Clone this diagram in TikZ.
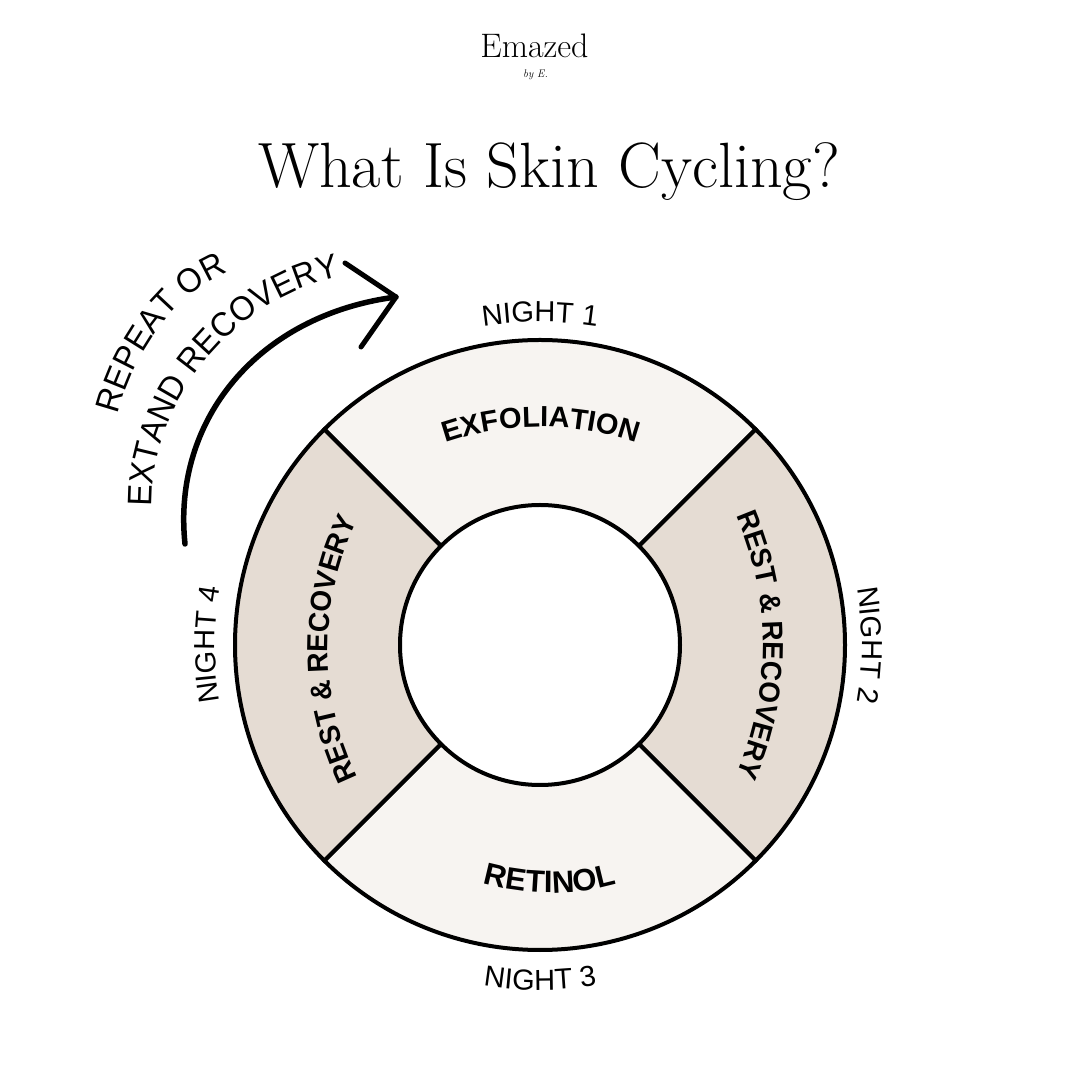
\documentclass[tikz,border=0pt]{standalone}
\usepackage{fontspec}
\usepackage{xcolor}
\newfontfamily\labelfont{Liberation Sans}
\newfontfamily\narrowfont[FakeStretch=0.96]{Liberation Sans}
\newfontfamily\arrowfont[FakeStretch=0.95]{Liberation Sans}
\usetikzlibrary{decorations.text}
\definecolor{creamfill}{HTML}{F7F4F1}
\definecolor{tanfill}{HTML}{E5DCD3}
\tikzset{
  ringline/.style={draw=black,line width=4pt},
  curvetext/.style 2 args={decorate,decoration={text along path,text align=center,text={|#1|#2}}},
  arrowtext/.style={decorate,decoration={text along path,text align=left,text={|\repeatstyle|#1}}},
  arrowline/.style={draw=black,line width=5.5pt,line cap=round,line join=round}
}
\newcommand{\nightstyle}{\labelfont\fontsize{29}{29}\selectfont}
\newcommand{\phasestyle}{\labelfont\bfseries\fontsize{29}{29}\selectfont}
\newcommand{\reststyle}{\narrowfont\bfseries\fontsize{29}{29}\selectfont}
\newcommand{\repeatstyle}{\arrowfont\fontsize{34}{34}\selectfont}

\begin{document}
\begin{tikzpicture}[x=1pt,y=1pt]
      \useasboundingbox (0,0) rectangle (1080,1080);
      \coordinate (ring) at (540,435);

      % the four segments
      \filldraw[ringline,fill=creamfill] (ring) ++(45:305) arc[start angle=45,end angle=135,radius=305pt] -- (ring) -- cycle;
      \filldraw[ringline,fill=tanfill] (ring) ++(-45:305) arc[start angle=-45,end angle=45,radius=305pt] -- (ring) -- cycle;
      \filldraw[ringline,fill=creamfill] (ring) ++(225:305) arc[start angle=225,end angle=315,radius=305pt] -- (ring) -- cycle;
      \filldraw[ringline,fill=tanfill] (ring) ++(135:305) arc[start angle=135,end angle=225,radius=305pt] -- (ring) -- cycle;
      \node[circle,ringline,fill=white,minimum size=280pt,inner sep=0pt] (hole) at (ring) {};

      % text in the segments
      \path[curvetext={\phasestyle}{EXFOLIATION}] (541,359) ++(115:294) arc[start angle=115,end angle=65,radius=294pt];
      \path[curvetext={\reststyle}{REST {\&} RECOVERY}] (438,435) ++(30:325) arc[start angle=30,end angle=-30,radius=325pt];
      \path[curvetext={\phasestyle\fontsize{31}{31}\selectfont}{RETINOL}] (550,432) ++(250:245) arc[start angle=250,end angle=290,radius=245pt];
      \path[curvetext={\reststyle}{REST {\&} RECOVERY}] (622,431) ++(210:294) arc[start angle=210,end angle=150,radius=294pt];

      % night labels
      \path[curvetext={\nightstyle}{NIGHT 1}] (540,378) ++(105:380) arc[start angle=105,end angle=75,radius=380pt];
      \path[curvetext={\nightstyle}{NIGHT 2}] (ring) ++(30:322) arc[start angle=30,end angle=-30,radius=322pt];
      \path[curvetext={\nightstyle}{NIGHT 3}] (ring) ++(240:345) arc[start angle=240,end angle=300,radius=345pt];
      \path[curvetext={\nightstyle}{NIGHT 4}] (ring) ++(210:325) arc[start angle=210,end angle=150,radius=325pt];

      % the arrow
      \coordinate (tail) at (185,536);
      \coordinate (tip) at (396,783);
      \coordinate (barbup) at (345,817);
      \coordinate (barbdown) at (361,733);
      \draw[arrowline] (tail) .. controls (172,660) and (258,765) .. (tip);
      \draw[arrowline,line width=5pt] (barbup) -- (tip) -- (barbdown);
      \path[arrowtext={REPEAT OR}] (118,665) .. controls (132,722) and (172,785) .. (228,808) -- (300,830);
      \path[arrowtext={EXTAND RECOVERY}] (152,573) .. controls (150,680) and (235,780) .. (335,802) -- (420,815);

      % titles
      \node[inner sep=0pt,anchor=base] (brand) at (534.5,1022) {\fontsize{34}{34}\selectfont Emazed};
      \node[inner sep=0pt,anchor=base] (byline) at (535.5,1002) {\fontsize{11}{11}\selectfont\itshape by E.};
      \node[inner sep=0pt,anchor=base] (title) at (549,892) {\fontsize{64}{64}\selectfont What Is Skin Cycling?};
    \end{tikzpicture}
\end{document}
